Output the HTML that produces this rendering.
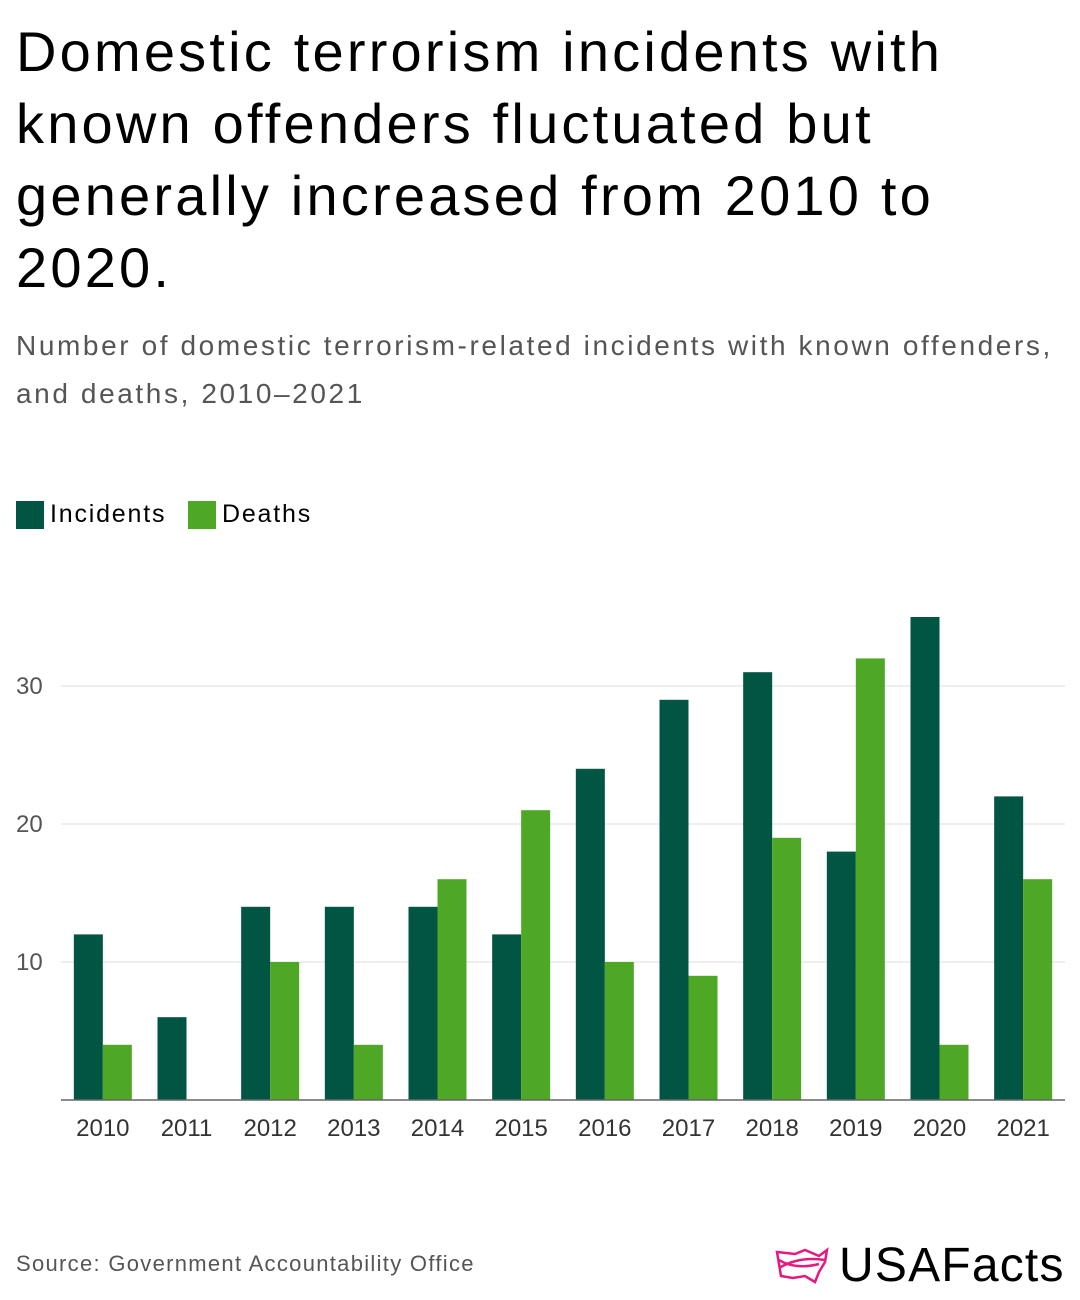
<!DOCTYPE html>
<html><head><meta charset="utf-8"><style>
body{margin:0;width:1080px;height:1300px;background:#fff;font-family:"Liberation Sans",sans-serif;position:relative;overflow:hidden}
.t{position:absolute;left:16px;top:16px;font-size:56px;line-height:72px;color:#000;font-weight:500;letter-spacing:3.2px;white-space:nowrap}
.s{position:absolute;left:16px;top:322px;font-size:28px;line-height:48px;color:#555;letter-spacing:2.6px;white-space:nowrap}
.lg{position:absolute;top:500px;font-size:25px;color:#000;display:flex;align-items:center;letter-spacing:1.8px}
.sw{width:28px;height:28px;margin-right:6px}
.src{position:absolute;left:16px;top:1251px;font-size:22px;color:#555;letter-spacing:1.3px}
</style></head><body>
<div class="t">Domestic terrorism incidents with<br>known offenders fluctuated but<br>generally increased from 2010 to<br>2020.</div>
<div class="s">Number of domestic terrorism-related incidents with known offenders,<br>and deaths, 2010–2021</div>
<div class="lg" style="left:16px"><div class="sw" style="background:#005543"></div>Incidents</div>
<div class="lg" style="left:188px"><div class="sw" style="background:#4ea826"></div>Deaths</div>
<svg id="c" width="1080" height="1300" style="position:absolute;left:0;top:0"></svg>
<div class="src">Source: Government Accountability Office</div>
<div style="position:absolute;left:775px;top:1238px;display:flex;align-items:center">
<svg width="56" height="40" viewBox="0 0 56 40"><path d="M2 6 L20 8 L30 4 L44 10 L52 4 L50 16 L44 26 L40 36 L30 30 L18 32 L6 30 L4 18 Z M4 14 Q20 24 44 18 M4 22 Q24 10 50 14" fill="none" stroke="#e6197e" stroke-width="2.5"/></svg>
<span style="font-size:48px;font-weight:500;color:#000;margin-left:8px;letter-spacing:1.2px">USAFacts</span></div>
<script>
const years=["2010","2011","2012","2013","2014","2015","2016","2017","2018","2019","2020","2021"];
const incidents=[12,6,14,14,14,12,24,29,31,18,35,22];
const deaths=[4,0,10,4,16,21,10,9,19,32,4,16];
const yTicks=[10,20,30];
const NS="http://www.w3.org/2000/svg";
const svg=document.getElementById('c');
const x0=61,x1=1065,y0=1100,k=13.8;
const gw=(x1-x0)/years.length,bw=29;
const y=v=>y0-v*k;
const cx=i=>x0+gw*(i+0.5);
function el(t,a){const e=document.createElementNS(NS,t);for(const q in a)e.setAttribute(q,a[q]);svg.appendChild(e);return e;}
yTicks.forEach(t=>{
 const l=el('line',{x1:x0,x2:x1,y1:y(t),y2:y(t),stroke:'#ddd','stroke-width':1});
 
 
 const tx=el('text',{x:16,y:y(t)+8,'font-size':24,fill:'#555','font-family':'Liberation Sans,sans-serif'});
 tx.textContent=t;
 
 
});
years.forEach((yr,i)=>{
 const a=el('rect',{x:cx(i)-bw,y:y(incidents[i]),width:bw,height:incidents[i]*k,fill:'#005543'});
 
 
 const b=el('rect',{x:cx(i),y:y(deaths[i]),width:bw,height:deaths[i]*k,fill:'#4ea826'});
 
 
 const t=el('text',{x:cx(i),y:1136,'text-anchor':'middle','font-size':24,fill:'#333','font-family':'Liberation Sans,sans-serif'});
 t.textContent=yr;
 
 
});
const ax=el('line',{x1:x0,x2:x1,y1:y0,y2:y0,stroke:'#666','stroke-width':1.5});


</script>
</body></html>
